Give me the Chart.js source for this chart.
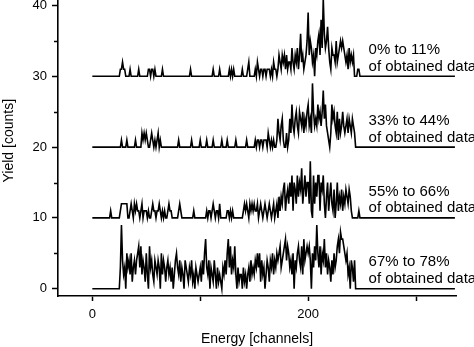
<!DOCTYPE html>
<html>
<head>
<meta charset="utf-8">
<script src="https://cdn.jsdelivr.net/npm/chart.js@4/dist/chart.umd.min.js"></script>
<style>
  html, body { margin: 0; padding: 0; background: #fff; }
  #wrap { width: 474px; height: 347px; position: relative; }
</style>
</head>
<body>
<div id="wrap"><canvas id="c"></canvas></div>
<script>
// ---- data (counts per channel, channels 0..249; flat zero afterwards) ----
const xLabelTicks = [0, 200];
const yLabelTicks = [0, 10, 20, 30, 40];
const tailChannel = 336;

const seriesNames = ["0% to 11%", "33% to 44%", "55% to 66%", "67% to 78%"];
const seriesSubtitle = "of obtained data";
const seriesOffsets = [30, 20, 10, 0];
const yTitle = "Yield [counts]";
const xTitle = "Energy [channels]";

const counts0to11 = [
  0,0,0,0,0,0,0,0,0,0,
  0,0,0,0,0,0,0,0,0,0,
  0,0,0,0,0,0,1,1,2,1,
  1,0,0,0,0,1,0,0,0,0,
  0,0,0,1,0,0,0,0,0,0,
  0,0,1,1,0,1,1,0,1,0,
  0,0,0,0,0,1,0,0,0,0,
  0,0,0,0,0,0,0,0,0,0,
  0,0,0,0,0,0,0,0,0,0,
  0,1,0,0,0,0,0,0,0,0,
  0,0,0,0,0,0,0,0,0,0,
  0,0,1,0,0,0,0,0,1,0,
  0,0,0,0,0,0,0,1,0,1,
  0,1,0,0,0,0,0,0,0,1,
  0,0,0,0,1,2,0,0,0,0,
  0,1,0,2,1,0,1,1,0,1,
  1,0,1,1,1,0,1,0,2,1,
  1,0,1,3,2,1,3,2,3,1,
  3,1,2,2,1,4,2,1,3,2,
  4,1,3,6,2,3,1,2,3,5,
  9,3,5,4,2,3,0,4,3,5,
  6,3,8,4,11,6,4,5,7,4,
  2,1,4,3,3,2,5,2,3,4,
  5,4,5,4,3,2,3,1,4,2,
  3,2,3,0,0,0,1,1,0,0
];
const counts33to44 = [
  0,0,0,0,0,0,0,0,0,0,
  0,0,0,0,0,0,0,0,0,0,
  0,0,0,0,0,0,0,1,0,0,
  0,0,1,0,0,0,0,0,0,0,
  1,0,0,0,0,0,2,1,2,1,
  2,1,0,0,1,2,1,0,1,0,
  1,2,0,1,0,0,0,0,0,0,
  0,0,0,0,0,0,0,0,0,0,
  1,0,0,0,0,0,0,0,0,0,
  0,0,1,0,0,0,0,0,0,0,
  1,0,0,0,0,0,1,0,0,0,
  0,0,1,0,0,0,0,0,0,0,
  1,0,0,0,0,1,0,0,0,0,
  0,0,0,1,0,0,0,0,0,0,
  0,0,0,1,0,0,0,0,0,0,
  0,1,0,1,1,0,1,1,0,1,
  1,1,0,2,1,0,1,0,1,0,
  0,1,4,2,1,3,4,1,0,0,
  2,0,1,4,2,6,3,2,4,5,
  3,2,5,4,3,5,2,4,3,5,
  6,3,4,2,9,5,3,4,3,6,
  4,5,3,5,8,4,6,3,2,1,
  0,2,6,4,5,3,2,5,1,4,
  2,3,5,3,2,3,4,2,4,3,
  2,4,3,2,0,0,0,0,0,0
];
const counts55to66 = [
  0,0,0,0,0,0,0,0,0,0,
  0,0,0,0,0,0,0,1,0,0,
  0,0,0,0,0,0,1,2,2,2,
  2,2,2,0,0,1,2,1,0,2,
  1,2,1,1,0,1,2,0,1,1,
  1,0,1,0,0,1,2,1,1,0,
  1,1,2,1,0,1,0,1,0,0,
  1,2,1,1,0,0,0,0,0,0,
  1,2,1,0,0,0,0,0,0,0,
  0,0,0,0,1,0,0,0,0,0,
  0,0,0,0,0,0,1,0,1,1,
  0,1,2,1,0,1,1,0,2,0,
  0,0,0,0,0,1,1,0,1,0,
  1,0,0,0,0,0,0,0,0,0,
  1,2,1,2,1,0,2,1,2,1,
  2,1,1,2,0,1,2,1,0,1,
  2,1,0,1,2,1,0,1,2,0,
  1,2,0,3,1,3,2,4,5,1,
  3,4,2,5,3,6,1,5,4,2,
  6,3,5,4,7,2,4,6,3,5,
  5,2,8,1,0,6,2,5,3,6,
  6,1,5,4,6,2,0,3,5,1,
  3,5,2,1,4,0,2,5,1,3,
  2,4,1,3,2,4,3,2,4,3,
  1,0,0,0,0,0,0,1,0,0
];
const counts67to78 = [
  0,0,0,0,0,0,0,0,0,0,
  0,0,0,0,0,0,0,0,0,0,
  0,0,0,0,0,0,3,9,4,2,
  3,0,5,3,4,2,5,1,3,4,
  2,4,5,6,3,6,2,4,3,1,
  5,2,0,6,3,4,2,1,4,3,
  2,4,3,0,5,2,4,3,1,3,
  4,2,3,1,3,0,2,4,5,3,
  2,4,1,3,2,0,4,3,2,1,
  3,2,4,1,2,0,3,2,1,2,
  3,1,4,2,5,7,3,2,4,0,
  3,2,1,4,2,0,3,1,2,1,
  0,3,2,4,2,5,7,3,6,2,
  4,3,6,2,0,3,1,2,2,0,
  3,1,2,0,2,3,1,4,2,3,
  2,4,3,5,3,5,1,4,2,3,
  0,2,4,3,1,4,3,5,2,4,
  3,5,4,5,6,3,4,5,6,7,
  4,6,5,3,4,2,5,0,4,3,
  5,6,4,3,6,2,7,4,5,6,
  5,6,4,0,5,3,6,4,9,5,
  3,6,2,5,4,7,3,5,2,4,
  3,1,4,2,5,3,4,6,7,5,
  8,7,7,6,5,4,5,2,3,0,
  4,3,1,4,0,0,0,0,0,0
];
const seriesCounts = [counts0to11, counts33to44, counts55to66, counts67to78];

// label placement in data units (relative to each baseline)
const labelChannel = 256;
const labelLine1Rise = 3.75;
const labelLine2Rise = 1.35;
const yTitleCenterValue = 20.9;

// ---- build datasets ----
const datasets = seriesCounts.map((arr, k) => {
  const pts = arr.map((v, i) => ({ x: i, y: seriesOffsets[k] + v }));
  pts.push({ x: tailChannel, y: seriesOffsets[k] });
  return {
    label: seriesNames[k],
    data: pts,
    borderColor: '#000',
    borderWidth: 1.6,
    pointRadius: 0,
    tension: 0,
    fill: false
  };
});

Chart.defaults.font.family = '"Liberation Sans", Arial, Helvetica, sans-serif';
Chart.defaults.color = '#000';

const labelPlugin = {
  id: 'seriesLabels',
  afterDraw(chart) {
    const { ctx, scales: { x, y } } = chart;
    ctx.save();
    // minor y ticks
    ctx.strokeStyle = '#000';
    ctx.lineWidth = 1.5;
    y.ticks.forEach(t => {
      if (t.value % 10 !== 0) {
        const py = Math.round(y.getPixelForValue(t.value)) + 0.5;
        ctx.beginPath();
        ctx.moveTo(chart.chartArea.left - 4, py);
        ctx.lineTo(chart.chartArea.left, py);
        ctx.stroke();
      }
    });
    ctx.fillStyle = '#000';
    ctx.font = '15px "Liberation Sans", Arial, sans-serif';
    ctx.textAlign = 'left';
    ctx.textBaseline = 'middle';
    seriesNames.forEach((name, k) => {
      const px = x.getPixelForValue(labelChannel);
      ctx.fillText(name, px, y.getPixelForValue(seriesOffsets[k] + labelLine1Rise));
      ctx.fillText(seriesSubtitle, px, y.getPixelForValue(seriesOffsets[k] + labelLine2Rise));
    });
    // y axis title
    ctx.font = '14px "Liberation Sans", Arial, sans-serif';
    ctx.textAlign = 'center';
    ctx.translate(9, y.getPixelForValue(yTitleCenterValue));
    ctx.rotate(-Math.PI / 2);
    ctx.fillText(yTitle, 0, 0);
    ctx.restore();
  }
};

new Chart(document.getElementById('c'), {
  type: 'line',
  data: { datasets },
  plugins: [labelPlugin],
  options: {
    responsive: true,
    maintainAspectRatio: false,
    animation: false,
    layout: { padding: { left: 0, right: 18, top: 0, bottom: 0 } },
    plugins: { legend: { display: false }, tooltip: { enabled: false } },
    scales: {
      x: {
        type: 'linear',
        min: -31.8,
        max: 337,
        afterFit(s) { s.height = 51; s.paddingLeft = 0; s.paddingRight = 0; },
        ticks: {
          stepSize: 100,
          includeBounds: false,
          maxRotation: 0,
          autoSkip: false,
          padding: 6,
          font: { size: 13 },
          color: '#000',
          callback: v => (xLabelTicks.includes(v) ? String(v) : '')
        },
        grid: { drawOnChartArea: false, drawTicks: true, tickLength: 5, tickColor: '#000', tickWidth: 1.5 },
        border: { display: true, color: '#000', width: 1.6 },
        title: { display: true, text: xTitle, font: { size: 14 }, color: '#000', padding: { top: 0, bottom: -1 } }
      },
      y: {
        type: 'linear',
        min: -1.03,
        max: 40.78,
        afterFit(s) { s.width = 58; s.paddingTop = 0; s.paddingBottom = 0; },
        ticks: {
          stepSize: 5,
          includeBounds: false,
          autoSkip: false,
          padding: 5,
          font: { size: 13 },
          color: '#000',
          callback: v => (yLabelTicks.includes(v) ? String(v) : '')
        },
        grid: {
          drawOnChartArea: false, drawTicks: true, tickLength: 6, tickWidth: 1.5,
          tickColor: c => (c.tick && c.tick.value % 10 === 0 ? '#000' : 'rgba(0,0,0,0)')
        },
        border: { display: true, color: '#000', width: 1.6 },
        title: { display: false }
      }
    }
  }
});
</script>
</body>
</html>
